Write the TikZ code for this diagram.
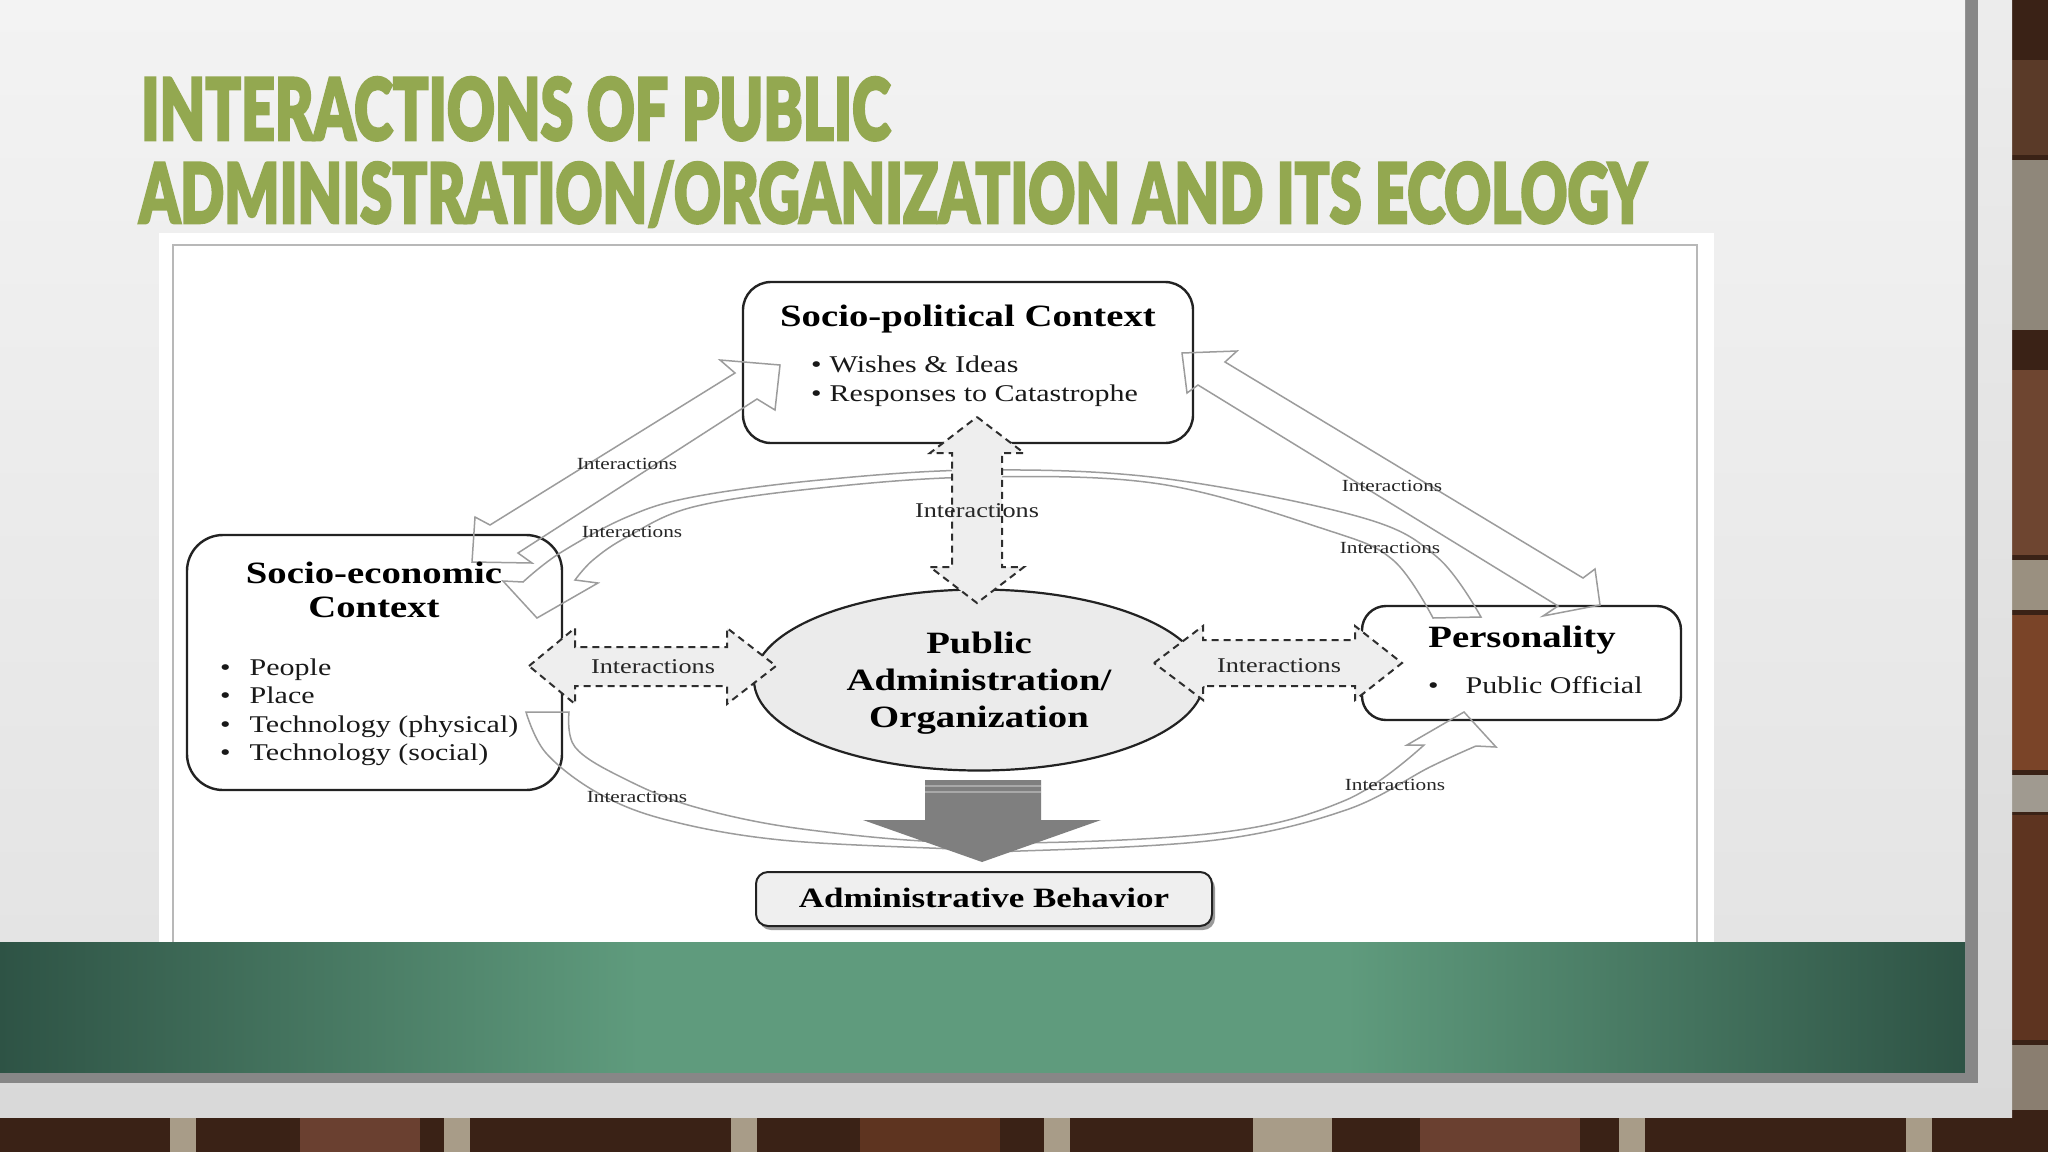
\documentclass[tikz,border=0pt]{standalone}
\usepackage{fontspec}
\usepackage{graphicx}
\usetikzlibrary{shapes.geometric}
\setmainfont{Liberation Serif}
\newfontfamily\dfont[FakeStretch=1.25]{Liberation Serif}
\IfFontExistsTF{Lato Black}{\newfontfamily\titlefont[FakeBold=3]{Lato Black}}{\newfontfamily\titlefont[FakeBold=3]{Liberation Sans Bold}}
\definecolor{titlegreen}{HTML}{93A850}
\definecolor{bandL}{HTML}{5F9B7D}
\definecolor{bandD}{HTML}{2E5345}
\definecolor{strip}{HTML}{878787}
\definecolor{brick}{HTML}{3A2216}
\definecolor{hollow}{HTML}{9C9C9C}
\definecolor{dashfill}{HTML}{EEEEEE}
\definecolor{dashline}{HTML}{2E2E2E}
\definecolor{ellfill}{HTML}{EBEBEB}
\definecolor{bigarrow}{HTML}{7F7F7F}
\definecolor{boxline}{HTML}{222222}
\definecolor{abfill}{HTML}{EFEFEF}
\definecolor{framegray}{HTML}{B8B8B8}
\definecolor{brA}{HTML}{5A3A28}
\definecolor{brB}{HTML}{8F877A}
\definecolor{brC}{HTML}{6E4530}
\definecolor{brD}{HTML}{9A9080}
\definecolor{brE}{HTML}{7A4428}
\definecolor{brF}{HTML}{A09A90}
\definecolor{brG}{HTML}{5E3420}
\definecolor{brH}{HTML}{8A7E70}
\definecolor{brI}{HTML}{A89C88}
\definecolor{brJ}{HTML}{6A4030}
\definecolor{panT}{HTML}{ECECEC}
\definecolor{panB}{HTML}{D9D9D9}
\definecolor{slideT}{HTML}{F3F3F3}
\definecolor{slideB}{HTML}{E2E2E2}
\definecolor{shadowgray}{HTML}{9A9A9A}
\definecolor{stripe}{HTML}{A8A8A8}
\pgfdeclarehorizontalshading{greenband}{100bp}{color(0bp)=(bandD); color(25bp)=(bandD); color(41.25bp)=(bandL); color(59.25bp)=(bandL); color(75bp)=(bandD); color(100bp)=(bandD)}
\begin{document}
\begin{tikzpicture}[x=1pt,y=-1pt,
  box/.style={draw=boxline, line width=2.4pt, fill=white, rounded corners=#1, inner sep=0pt},
  hollowarrow/.style={draw=hollow, line width=1.5pt, line join=miter},
  dasharrow/.style={draw=dashline, fill=dashfill, line width=2pt, dash pattern=on 7pt off 5pt},
  head/.style={inner sep=0pt, anchor=base, font=\dfont\bfseries\fontsize{31pt}{37pt}\selectfont, text=black},
  item/.style={inner sep=0pt, anchor=base west, font=\dfont\fontsize{24pt}{29pt}\selectfont, text=black!90},
  lbl/.style={inner sep=0pt, anchor=base, font=\dfont\fontsize{17pt}{20pt}\selectfont, text=black!85},
  dlbl/.style={inner sep=0pt, anchor=base, font=\dfont\fontsize{21pt}{25pt}\selectfont, text=black!85}]
\useasboundingbox (0,0) rectangle (2048,1152);
% ---------- background (brick wall) ----------
\fill[brick] (0,0) rectangle (2048,1152);
\fill[brA] (2012,60) rectangle (2048,155);
\fill[brB] (2012,160) rectangle (2048,330);
\fill[brC] (2012,370) rectangle (2048,555);
\fill[brD] (2012,560) rectangle (2048,610);
\fill[brE] (2012,615) rectangle (2048,770);
\fill[brF] (2012,775) rectangle (2048,812);
\fill[brG] (2012,815) rectangle (2048,1040);
\fill[brH] (2012,1045) rectangle (2048,1110);
\foreach \xx/\ww in {170/26,444/26,731/26,1044/26,1253/79,1619/26,1906/26}{
  \fill[brI] (\xx,1117) rectangle ++(\ww,35);}
\fill[brJ] (300,1117) rectangle (420,1152);
\fill[brG] (860,1117) rectangle (1000,1152);
\fill[brJ] (1420,1117) rectangle (1580,1152);
% ---------- slide panels ----------
\shade[top color=panT, bottom color=panB] (0,0) rectangle (2012,1117);
\fill[strip] (0,0) rectangle (1978,1083);
\shade[top color=slideT, bottom color=slideB] (0,0) rectangle (1965,1072);
% green band
\shade[shading=greenband, shading angle=0] (0,942) rectangle (1965,1072);
% ---------- title ----------
\node[anchor=base west, inner sep=0pt, text=titlegreen] (t1) at (141,140)
  {\resizebox{749pt}{63pt}{\titlefont INTERACTIONS OF PUBLIC}};
\node[anchor=base west, inner sep=0pt, text=titlegreen] (t2) at (139,223)
  {\resizebox{1507pt}{62pt}{\titlefont ADMINISTRATION/ORGANIZATION AND ITS ECOLOGY}};
% ---------- diagram image ----------
\fill[white] (159,233) rectangle (1714,942);
\draw[framegray, line width=2pt] (173,942) -- (173,245) -- (1697,245) -- (1697,942);
% boxes
\node[box=28pt, minimum width=450pt, minimum height=161pt] (sp) at (968,362.5) {};
\node[box=36pt, minimum width=375pt, minimum height=255pt] (se) at (374.5,662.5) {};
\node[box=24pt, minimum width=319pt, minimum height=114pt] (per) at (1521.5,663) {};
\node[draw=boxline, line width=2.2pt, fill=ellfill, ellipse, inner sep=0pt,
      minimum width=450pt, minimum height=181pt] (pa) at (979,680) {};
\fill[shadowgray, rounded corners=12pt] (759,876) rectangle (1215,930);
\node[box=12pt, fill=abfill, line width=2pt, minimum width=456pt, minimum height=54pt] (ab) at (984,899) {};
% ---------- hollow interaction arrows ----------
% straight: socio-economic <-> socio-political
\draw[hollowarrow] (472,562) -- (475,517) -- (490,525) -- (735,373) -- (720,360) -- (780,365)
  -- (775,410) -- (757,399) -- (518,553) -- (532,563) -- cycle;
% straight: socio-political <-> personality
\draw[hollowarrow] (1182,353) -- (1237,351) -- (1225,362) -- (1583,578) -- (1595,569) -- (1600,605)
  -- (1543,616) -- (1558,606) -- (1198,385) -- (1187,393) -- cycle;
% upper curved arrow (personality -> socio-economic)
\draw[hollowarrow] (503,581)
  -- plot[smooth, tension=0.6] coordinates {(523,582) (560,553) (627,517) (693,497) (820,480) (980,470) (1160,478) (1360,517) (1437,557) (1481,617)}
  -- plot[smooth, tension=0.6] coordinates {(1433,618) (1393,560) (1327,530) (1160,484) (980,477) (820,488) (693,507) (627,537) (593,560) (575,580)}
  -- (598,583) -- (537,618) -- cycle;
% lower curved arrow (socio-economic -> personality)
\draw[hollowarrow] (526,712)
  -- plot[smooth, tension=0.6] coordinates {(526,712) (546,753) (598,793) (667,820) (781,840) (954,849) (1020,851) (1216,840) (1346,810) (1430,767) (1476,746)}
  -- (1496,747) -- (1464,712) -- (1407,745)
  -- plot[smooth, tension=0.6] coordinates {(1424,745) (1346,800) (1216,833) (982,843) (810,830) (695,807) (621,777) (575,747) (569,712)}
  -- cycle;
% ---------- dashed double arrows ----------
\draw[dasharrow] (977,417) -- (1024,453) -- (1002,453) -- (1002,567) -- (1024,567) -- (977,603)
  -- (930,567) -- (952,567) -- (952,453) -- (930,453) -- cycle;
\draw[dasharrow] (529,666) -- (575,628) -- (575,647) -- (727,647) -- (727,628) -- (776,666)
  -- (727,704) -- (727,686) -- (575,686) -- (575,704) -- cycle;
\draw[dasharrow] (1154,663) -- (1203,626) -- (1203,640) -- (1355,640) -- (1355,626) -- (1402,663)
  -- (1355,700) -- (1355,686) -- (1203,686) -- (1203,700) -- cycle;
% ---------- big gray arrow ----------
\fill[bigarrow] (925,780) -- (1041,780) -- (1041,820) -- (1101,820) -- (982,862) -- (863,820) -- (925,820) -- cycle;
\draw[stripe, line width=1.2pt] (925,786) -- (1041,786) (925,792) -- (1041,792);
% ---------- texts ----------
\node[head] (spt) at (968,326) {Socio-political Context};
\node[item] (sp1) at (811,372) {•\hspace{8pt}Wishes \& Ideas};
\node[item] (sp2) at (811,401) {•\hspace{8pt}Responses to Catastrophe};
\node[head] (set1) at (374,583) {Socio-economic};
\node[head] (set2) at (374,617) {Context};
\node[item] (se1) at (220,675) {•\hspace{19pt}People};
\node[item] (se2) at (220,703) {•\hspace{19pt}Place};
\node[item] (se3) at (220,732) {•\hspace{19pt}Technology (physical)};
\node[item] (se4) at (220,760) {•\hspace{19pt}Technology (social)};
\node[head] (pa1) at (979,653) {Public};
\node[head] (pa2) at (979,690) {Administration/};
\node[head] (pa3) at (979,727) {Organization};
\node[head] (pert) at (1522,647) {Personality};
\node[item] (per1) at (1428,693) {•\hspace{27pt}Public Official};
\node[head, font=\dfont\bfseries\fontsize{28pt}{33pt}\selectfont] (abt) at (984,907) {Administrative Behavior};
% interaction labels
\node[dlbl] (l1) at (977,517) {Interactions};
\node[dlbl] (l2) at (653,673) {Interactions};
\node[dlbl] (l3) at (1279,672) {Interactions};
\node[lbl] (l4) at (627,469) {Interactions};
\node[lbl] (l5) at (632,537) {Interactions};
\node[lbl] (l6) at (637,802) {Interactions};
\node[lbl] (l7) at (1392,491) {Interactions};
\node[lbl] (l8) at (1390,553) {Interactions};
\node[lbl] (l9) at (1395,790) {Interactions};
\end{tikzpicture}
\end{document}
